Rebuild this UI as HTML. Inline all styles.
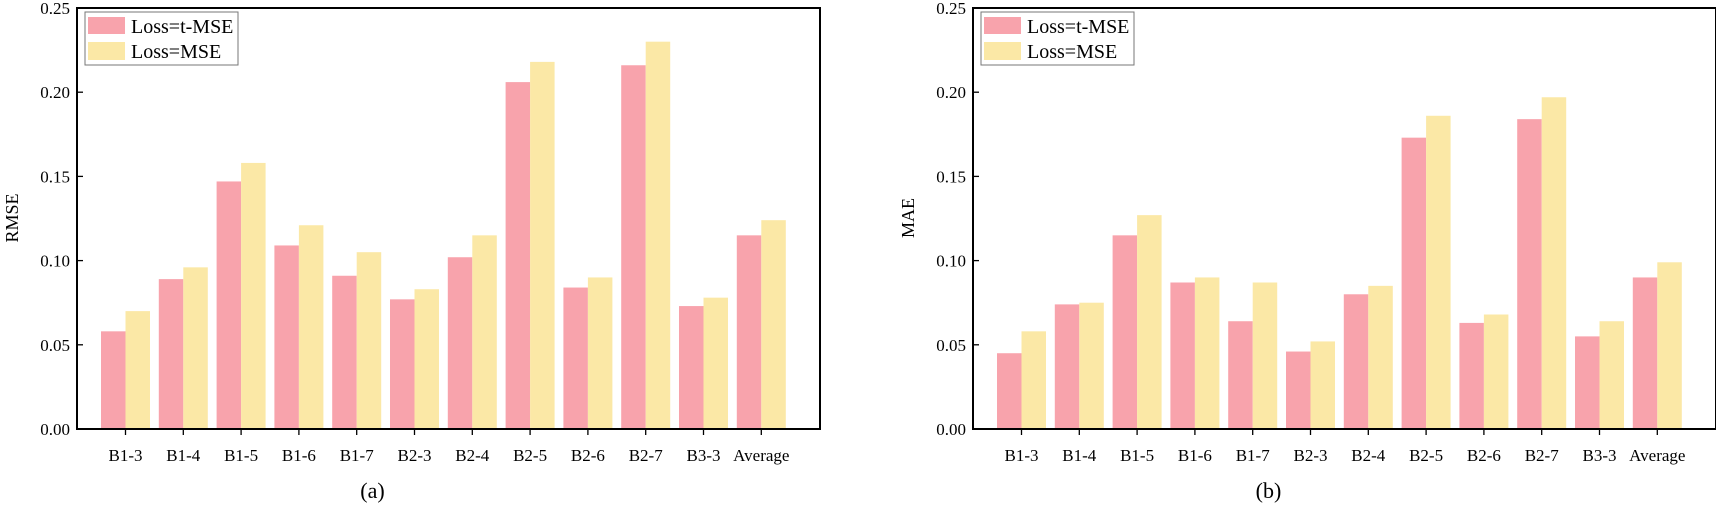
<!DOCTYPE html>
<html><head><meta charset="utf-8"><style>
html,body{margin:0;padding:0;background:#fff;}
svg{display:block;font-family:"Liberation Serif",serif;}
</style></head><body>
<svg id="s" width="1716" height="513" viewBox="0 0 1716 513" xmlns="http://www.w3.org/2000/svg"></svg>
<script>
(function(){
const s=document.getElementById('s');
let h='';
const cats=['B1-3','B1-4','B1-5','B1-6','B1-7','B2-3','B2-4','B2-5','B2-6','B2-7','B3-3','Average'];
const data=[
 {off:0,lab:'RMSE',cap:'(a)',
  a:[.058,.089,.147,.109,.091,.077,.102,.206,.084,.216,.073,.115],
  b:[.070,.096,.158,.121,.105,.083,.115,.218,.090,.230,.078,.124]},
 {off:896,lab:'MAE',cap:'(b)',
  a:[.045,.074,.115,.087,.064,.046,.080,.173,.063,.184,.055,.090],
  b:[.058,.075,.127,.090,.087,.052,.085,.186,.068,.197,.064,.099]}];
const T=8,B=429,k=(B-T)/0.25;
for(const d of data){
 const L=77+d.off,R=820+d.off;
 for(let i=0;i<12;i++){
  const cx=125.5+d.off+i*57.8;
  const ya=B-d.a[i]*k, yb=B-d.b[i]*k;
  h+=`<rect x="${cx-24.5}" y="${ya}" width="24.5" height="${B-ya}" fill="#F8A3AC"/>`;
  h+=`<rect x="${cx}" y="${yb}" width="24.5" height="${B-yb}" fill="#FBE8A6"/>`;
  h+=`<line x1="${cx}" y1="${B}" x2="${cx}" y2="${B+6}" stroke="#000" stroke-width="1.3"/>`;
  h+=`<text x="${cx}" y="${B+32}" font-size="17" text-anchor="middle">${cats[i]}</text>`;
 }
 for(let j=0;j<=5;j++){
  const v=j*0.05, y=B-v*k;
  h+=`<line x1="${L}" y1="${y}" x2="${L+6}" y2="${y}" stroke="#000" stroke-width="1.3"/>`;
  h+=`<text x="${L-7}" y="${y+6}" font-size="17" text-anchor="end">${v.toFixed(2)}</text>`;
 }
 h+=`<rect x="${L}" y="${T}" width="${R-L}" height="${B-T}" fill="none" stroke="#000" stroke-width="2"/>`;
 h+=`<rect x="${L+8}" y="12" width="153" height="53" fill="#fff" stroke="#777" stroke-width="1"/>`;
 h+=`<rect x="${L+11}" y="17" width="37" height="17" fill="#F8A3AC"/>`;
 h+=`<rect x="${L+11}" y="42" width="37" height="18" fill="#FBE8A6"/>`;
 h+=`<text x="${L+54}" y="33" font-size="20">Loss=t-MSE</text>`;
 h+=`<text x="${L+54}" y="58" font-size="20">Loss=MSE</text>`;
 h+=`<text transform="translate(${18+d.off},218) rotate(-90)" font-size="18" text-anchor="middle">${d.lab}</text>`;
 h+=`<text x="${(L+R)/2-76}" y="498" font-size="22" text-anchor="middle">${d.cap}</text>`;
}
s.innerHTML=h;
})();
</script>
</body></html>
